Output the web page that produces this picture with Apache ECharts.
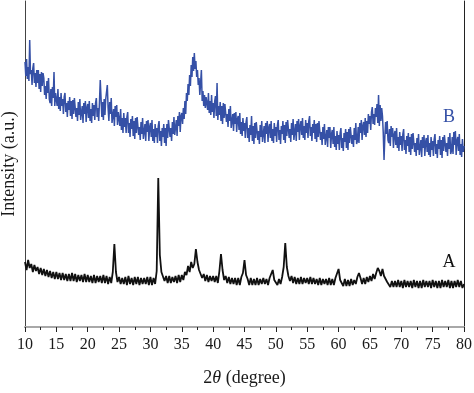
<!DOCTYPE html>
<html>
<head>
<meta charset="utf-8">
<script src="https://cdn.jsdelivr.net/npm/echarts@6/dist/echarts.min.js"></script>
<style>html,body{margin:0;padding:0;background:#fff}#c{width:474px;height:393px}</style>
</head>
<body>
<div id="c"></div>
<script>
// 2theta grids: first angle and step (degrees)
const startDeg = 10;
const stepB = 0.125;
const stepA = 0.25;
const xTicks = [10,15,20,25,30,35,40,45,50,55,60,65,70,75,80];

// Sample B (blue), intensity a.u., one value per 0.125 degree from 10 to 80 (one row per degree)
const seriesB = [
 265,251,268,248,260,246,287,253,
 257,242,259,264,244,254,240,257,
 244,257,238,253,235,255,241,254,
 249,232,241,228,246,234,249,228,
 224,238,221,240,229,255,221,234,
 235,221,238,218,230,216,234,221,
 228,213,230,234,215,224,210,226,
 217,230,211,226,208,227,213,229,
 227,210,219,206,225,212,228,207,
 207,221,204,224,213,226,205,219,
 223,209,226,206,218,204,224,211,
 222,207,224,229,210,219,206,225,
 247,229,210,225,207,228,212,228,
 227,242,219,206,225,213,229,204,
 204,218,201,221,210,222,202,215,
 215,201,218,197,209,194,214,200,
 209,194,210,215,194,204,190,208,
 198,211,191,206,188,209,194,210,
 209,192,200,187,205,193,209,188,
 189,203,186,206,195,207,186,200,
 204,190,207,186,198,184,203,190,
 199,184,201,206,186,196,181,199,
 190,203,184,199,181,203,189,207,
 206,190,199,186,205,193,210,192,
 192,207,191,211,201,215,195,211,
 214,203,219,208,226,213,234,226,
 243,232,252,241,262,250,270,256,
 274,258,266,250,257,242,249,232,
 244,257,226,236,221,232,219,230,
 231,217,234,214,226,212,232,215,
 224,209,226,231,211,244,207,221,
 212,225,206,221,203,224,209,223,
 222,205,213,200,218,206,221,199,
 199,213,196,214,203,215,195,208,
 211,197,214,193,205,191,209,196,
 204,189,205,210,189,199,185,202,
 192,211,186,201,183,204,189,205,
 204,187,196,183,202,190,206,185,
 187,201,184,204,193,206,185,199,
 203,189,206,186,198,184,204,191,
 200,185,202,207,187,197,183,201,
 193,206,187,202,184,205,191,207,
 206,189,198,185,204,192,208,187,
 189,203,186,206,195,208,187,201,
 206,192,209,189,201,187,207,194,
 204,189,206,211,191,200,186,203,
 194,207,188,203,185,204,190,206,
 204,187,195,182,200,188,203,182,
 183,197,180,200,189,200,179,193,
 197,183,200,180,191,177,196,183,
 192,177,194,199,179,189,176,194,
 185,198,179,195,177,198,184,200,
 200,183,192,180,199,187,204,183,
 186,200,184,204,194,207,187,201,
 205,192,209,190,206,194,213,203,
 211,197,215,220,203,213,202,219,
 210,223,204,232,201,222,206,219,
 211,194,167,190,205,193,206,187,
 184,198,181,201,190,199,179,192,
 196,182,199,179,190,176,195,182,
 191,176,193,198,177,187,173,191,
 181,194,175,190,172,193,178,194,
 192,175,184,171,189,177,193,172,
 173,187,170,190,179,192,171,185,
 189,175,192,172,184,170,190,177,
 186,171,188,193,173,183,169,187,
 178,191,172,187,169,190,176,192,
 192,175,184,171,190,178,194,173,
 176,190,173,195,182,196,172,186,
 190,176,193,172,183,170,188,175,
 181
];

// Sample A (black), intensity a.u., one value per 0.25 degree from 10 to 80
const seriesA = [
 65,57,67,59, 63,55,62,56, 60,53,59,52, 58,51,57,50, 56,49,55,48,
 55,48,54,47, 54,47,53,46, 53,46,54,46, 53,45,52,46, 52,45,53,45,
 52,45,51,44, 52,44,51,45, 51,44,52,44, 51,43,50,44, 55,83,55,45,
 50,43,49,43, 50,42,51,43, 49,42,50,43, 50,42,49,43, 49,43,50,42,
 50,42,49,43, 56,149,72,55, 53,46,51,44, 51,44,50,45, 51,44,52,45,
 52,47,55,52, 61,55,65,59, 63,78,65,57, 57,49,53,46, 52,45,51,46,
 51,45,51,44, 56,73,57,47, 51,44,50,43, 49,43,49,42, 49,42,50,54,
 67,52,48,42, 49,42,48,42, 49,42,48,43, 49,43,48,42, 49,50,57,47,
 49,42,48,43, 50,60,84,60, 51,46,51,44, 50,43,49,43, 50,43,49,44,
 49,43,50,43, 49,43,48,42, 49,42,48,43, 48,42,49,42, 48,42,49,50,
 58,47,47,41, 48,41,47,41, 48,42,47,43, 50,54,49,43, 49,43,50,45,
 51,46,53,48, 54,59,56,51, 58,51,49,45, 47,40,46,40, 46,40,47,40,
 46,39,47,40, 46,40,46,39, 47,40,46,39, 46,39,47,40, 46,40,46,39,
 47,40,46,39, 46,39,47,40, 46,40,47,39, 46,39,46,40, 47,40,46,39,
 43
];

const labelA = {name: 'A', deg: 77.6, value: 65};
const labelB = {name: 'B', deg: 77.6, value: 210};

function pairs(vals, step){ return vals.map((v,i)=>[startDeg + i*step, v]); }

const serif = "'Liberation Serif','DejaVu Serif',serif";
const chart = echarts.init(document.getElementById('c'));
chart.setOption({
  animation: false,
  grid: {left: 25, right: 10, top: 1, bottom: 66, containLabel: false, outerBoundsMode: 'none'},
  xAxis: [{
    type: 'value', min: 10, max: 80, interval: 5,
    axisLine: {lineStyle: {color: '#222', width: 1}},
    axisTick: {show: true, length: 5, lineStyle: {color: '#222'}},
    minorTick: {show: true, splitNumber: 2, length: 3, lineStyle: {color: '#222'}},
    splitLine: {show: false},
    axisLabel: {fontFamily: serif, fontSize: 16, color: '#1a1a1a', margin: 10,
      formatter: v => xTicks.includes(v) ? String(v) : ''},
    name: '2{i|θ} (degree)', nameLocation: 'middle', nameGap: 42,
    nameTextStyle: {fontFamily: serif, fontSize: 18, color: '#1a1a1a',
      rich: {i: {fontStyle: 'italic', fontFamily: serif, fontSize: 18, color: '#1a1a1a'}}}
  }, {
    type: 'value', min: 10, max: 80, position: 'top',
    axisLine: {show: true, lineStyle: {color: '#a8a8a8', width: 2}},
    axisTick: {show: false}, axisLabel: {show: false}, splitLine: {show: false}
  }],
  yAxis: [{
    type: 'value', min: 0, max: 326,
    axisLine: {show: true, lineStyle: {color: '#444'}},
    axisTick: {show: false}, axisLabel: {show: false}, splitLine: {show: false},
    name: 'Intensity (a.u.)', nameLocation: 'middle', nameGap: 7,
    nameTextStyle: {fontFamily: serif, fontSize: 18, color: '#1a1a1a'}
  }, {
    type: 'value', min: 0, max: 326, position: 'right',
    axisLine: {show: true, lineStyle: {color: '#222'}},
    axisTick: {show: false}, axisLabel: {show: false}, splitLine: {show: false}
  }],
  series: [{
    name: 'B', type: 'line', data: pairs(seriesB, stepB), showSymbol: false,
    lineStyle: {color: '#3550a6', width: 1.5}, z: 2,
    markPoint: {symbol: 'circle', symbolSize: 0, data: [{coord: [labelB.deg, labelB.value],
      label: {show: true, formatter: labelB.name, color: '#3550a6', fontFamily: serif, fontSize: 18, position: 'inside'}}]}
  }, {
    name: 'A', type: 'line', data: pairs(seriesA, stepA), showSymbol: false,
    lineStyle: {color: '#111', width: 1.8}, z: 3,
    markPoint: {symbol: 'circle', symbolSize: 0, data: [{coord: [labelA.deg, labelA.value],
      label: {show: true, formatter: labelA.name, color: '#111', fontFamily: serif, fontSize: 18, position: 'inside'}}]}
  }]
});
</script>
</body>
</html>
